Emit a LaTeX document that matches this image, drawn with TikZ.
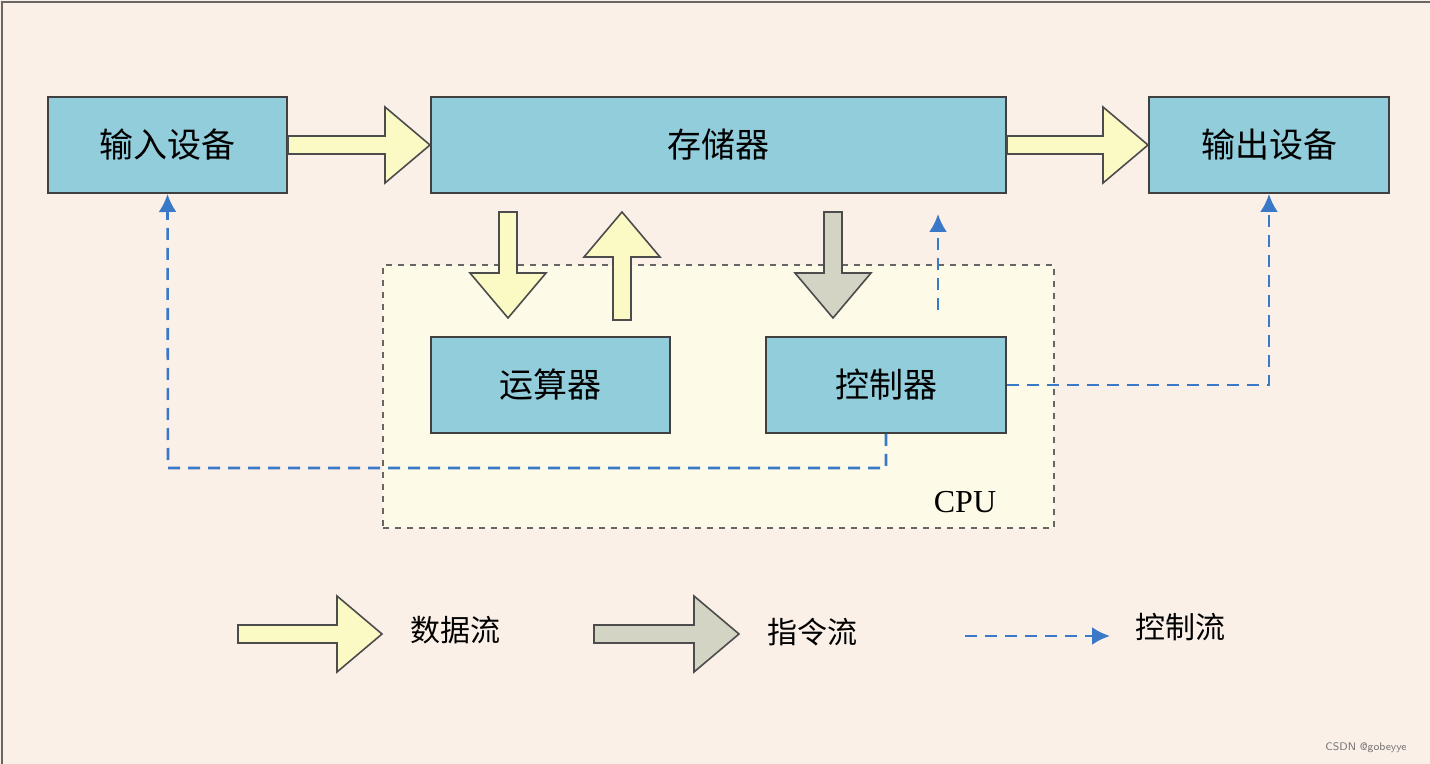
\documentclass[tikz,border=0pt]{standalone}
\usepackage{fontspec}
\usetikzlibrary{arrows.meta}
\newfontfamily\cjk{Noto Sans CJK SC}
\newfontfamily\serifcpu{Liberation Serif}
\definecolor{bg}{HTML}{FBF0E8}
\definecolor{boxb}{HTML}{92CDDC}
\definecolor{cpuf}{HTML}{FDFBE8}
\definecolor{yel}{HTML}{FCFAC4}
\definecolor{gry}{HTML}{D4D4C4}
\definecolor{ctl}{HTML}{3A78C8}
\newcommand\blkarrow[4]{% fill, start, angle, length
  \draw[draw=black!70,line width=0.8pt,fill=#1,shift={#2},rotate=#3]
   (0,-9)--(#4-45,-9)--(#4-45,-38)--(#4,0)--(#4-45,38)--(#4-45,9)--(0,9)--cycle;}
\begin{document}
\begin{tikzpicture}[x=0.5pt,y=-0.5pt,
  unit/.style={draw=black!75,line width=1pt,fill=boxb,inner sep=0pt,font=\cjk\fontsize{17}{20}\selectfont},
  ctrl/.style={ctl,line width=1.3pt,dash pattern=on 6pt off 4pt},
  tip/.style={-{Latex[length=9pt,width=9pt]}}]
\useasboundingbox (0,0) rectangle (1430,764);
\fill[bg] (0,0) rectangle (1430,764);
\draw[black!60,line width=1pt] (2,764)--(2,2)--(1430,2);
\node[draw=black!60,dashed,line width=0.8pt,fill=cpuf,minimum width=335.5pt,minimum height=131.5pt,inner sep=0pt] (cpu) at (718.5,396.5) {};
\node[font=\serifcpu\fontsize{16}{18}\selectfont] (cpul) at (965,502) {CPU};
\node[unit,minimum width=119.5pt,minimum height=48pt] (in) at (167.5,145) {输入设备};
\node[unit,minimum width=287.5pt,minimum height=48pt] (mem) at (718.5,145) {存储器};
\node[unit,minimum width=120pt,minimum height=48pt] (out) at (1269,145) {输出设备};
\node[unit,minimum width=119.5pt,minimum height=48pt] (alu) at (550.5,385) {运算器};
\node[unit,minimum width=120pt,minimum height=48pt] (cu) at (886,385) {控制器};
\blkarrow{yel}{(288,145)}{0}{142}
\blkarrow{yel}{(1007,145)}{0}{141}
\blkarrow{yel}{(508,212)}{-90}{106}
\blkarrow{yel}{(622,320)}{90}{108}
\blkarrow{gry}{(833,212)}{-90}{106}
\coordinate (c1) at (938,310);
\coordinate (c2) at (938,214);
\draw[ctrl,tip] (c1)--(c2);
\draw[ctrl,tip] (cu.south) |- (168,468) -- (in.south);
\draw[ctrl,tip] (cu.east) -| (out.south);
% legend
\blkarrow{yel}{(238,634)}{0}{144}
\node[font=\cjk\fontsize{15}{18}\selectfont] (l1) at (455,630) {数据流};
\blkarrow{gry}{(594,634)}{0}{145}
\node[font=\cjk\fontsize{15}{18}\selectfont] (l2) at (812,632) {指令流};
\coordinate (d1) at (965,636);
\coordinate (d2) at (1110,636);
\draw[ctrl,tip] (d1)--(d2);
\node[font=\cjk\fontsize{15}{18}\selectfont] (l3) at (1180,627) {控制流};
\node[font=\sffamily\fontsize{5.5}{7}\selectfont,text=black!55] (wm) at (1366,748) {CSDN @gobeyye};
\end{tikzpicture}
\end{document}
